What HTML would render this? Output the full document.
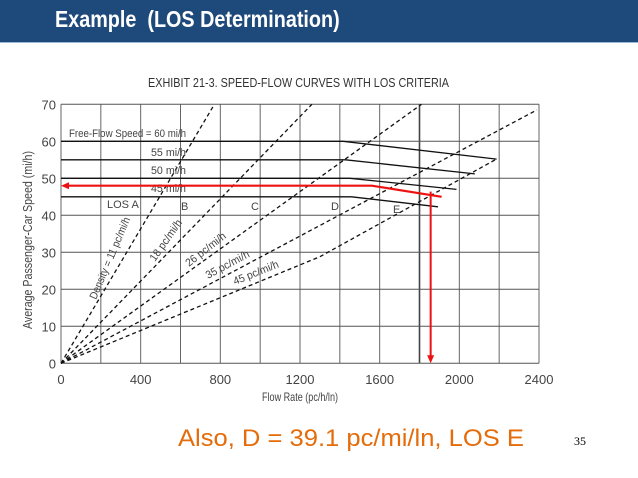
<!DOCTYPE html>
<html><head><meta charset="utf-8"><style>
html,body{margin:0;padding:0;background:#fff;}
body{width:638px;height:478px;overflow:hidden;position:relative;font-family:"Liberation Sans",sans-serif;}
#hdr{position:absolute;left:0;top:0;width:638px;height:42px;background:#1e497b;border-bottom:1px solid #9bb7d6;}
#hdr span{position:absolute;left:55px;top:6px;color:#fff;font-weight:bold;font-size:23px;white-space:nowrap;transform:scaleX(0.86);transform-origin:0 0;}
#foot{position:absolute;left:178px;top:425px;color:#e46c0a;font-size:24px;white-space:nowrap;transform:scaleX(1.065);transform-origin:0 0;}
#pg{position:absolute;left:574px;top:434px;font-family:"Liberation Serif",serif;font-size:12px;color:#000;}
svg{position:absolute;left:0;top:0;}
</style></head><body>
<div id="hdr"><span>Example &nbsp;(LOS Determination)</span></div>
<svg id="chart" width="638" height="478"></svg>
<div id="foot">Also, D = 39.1 pc/mi/ln, LOS E</div>
<div id="pg">35</div>
<script>
const xTicks=[0,400,800,1200,1600,2000,2400];
const yTicks=[0,10,20,30,40,50,60,70];
const speedNames=["Free-Flow Speed = 60 mi/h","55 mi/h","50 mi/h","45 mi/h"];
const curve60=[[0,60],[1417,60],[2187,55.2]];
const curve55=[[0,55],[1429,55],[2078,51.2]];
const curve50=[[0,50],[1451,50],[1986,47.0]];
const curve45=[[0,45],[1459,45],[1893,42.3]];
const dens11=[[0,0],[770,70]];
const dens18=[[0,0],[1260,70]];
const dens26=[[0,0],[1810,70]];
const dens35=[[0,0],[2390,68.5]];
const dens45=[[0,0],[1300,28.8],[2190,55.3]];
const redPath=[[1561,48],[1911,45]];
const redSpeed=48, redFlow=1856, redFlowTop=46.4;
const NS="http://www.w3.org/2000/svg";
const svg=document.getElementById('chart');
const X=v=>61+v*(539-61)/2400;
const Y=v=>363.3-v*(363.3-104.3)/70;
function mk(t,a,p){const e=document.createElementNS(NS,t);for(const k in a)e.setAttribute(k,a[k]);(p||svg).appendChild(e);return e;}
function pts(a){return a.map(p=>X(p[0]).toFixed(1)+','+Y(p[1]).toFixed(1)).join(' ');}
for(let f=0;f<=2400;f+=200){const l=mk('line',{x1:X(f),x2:X(f),y1:Y(0),y2:Y(70),stroke:f==1800?'#444':'#666','stroke-width':f==1800?1.6:1});
}
for(let s=0;s<=70;s+=10){const l=mk('line',{x1:X(0),x2:X(2400),y1:Y(s),y2:Y(s),stroke:'#555','stroke-width':1});
}
xTicks.forEach(v=>{const t=mk('text',{x:X(v),y:384,'font-size':13,fill:'#444','text-anchor':'middle'});t.textContent=v;
});
yTicks.forEach(v=>{const t=mk('text',{x:56,y:Y(v)+5,'font-size':13,fill:'#444','text-anchor':'end'});t.textContent=v;
});
let t=mk('text',{x:300,y:401,'font-size':12,fill:'#444','text-anchor':'middle',textLength:76,lengthAdjust:'spacingAndGlyphs'});t.textContent='Flow Rate (pc/h/ln)';

t=mk('text',{x:0,y:0,'font-size':13,fill:'#444','text-anchor':'middle',transform:'translate(32,240) rotate(-90)',textLength:178,lengthAdjust:'spacingAndGlyphs'});t.textContent='Average Passenger-Car Speed (mi/h)';

t=mk('text',{x:148,y:87,'font-size':12.5,fill:'#333',textLength:301,lengthAdjust:'spacingAndGlyphs'});t.textContent='EXHIBIT 21-3.  SPEED-FLOW CURVES WITH LOS CRITERIA';

[[dens11,'density-11'],[dens18,'density-18'],[dens26,'density-26'],[dens35,'density-35'],[dens45,'density-45']].forEach(d=>{
const p=mk('polyline',{points:pts(d[0]),fill:'none',stroke:'#111','stroke-width':1.3,'stroke-dasharray':'4,3'});
});
[curve60,curve55,curve50,curve45].forEach((c,i)=>{const p=mk('polyline',{points:pts(c),fill:'none',stroke:'#111','stroke-width':1.3});
});
const lab=(s,x,y,n,rot,fs,w)=>{const a={x:x,y:y,'font-size':fs||11,fill:'#444',transform:rot?`rotate(${rot} ${x} ${y})`:''};if(w){a.textLength=w;a.lengthAdjust='spacingAndGlyphs';}
const e=mk('text',a);e.textContent=s;
};
lab(speedNames[0],69,137,'ffs-60-label',0,11,117);lab(speedNames[1],151,156,'ffs-55-label',0,11,35);lab(speedNames[2],151,174,'ffs-50-label',0,11,35);lab(speedNames[3],151,192,'ffs-45-label',0,11,35);
lab('LOS A',107,208,'los-a-label');lab('B',181,210,'los-b-label');lab('C',251,210,'los-c-label');lab('D',331,210,'los-d-label');lab('E',393,213,'los-e-label');
lab('Density = 11 pc/mi/h',96,300,'density-11-label',-67,11,88);lab('18 pc/mi/h',155,262,'density-18-label',-55,11,48);
lab('26 pc/mi/h',189,267,'density-26-label',-38,11,48);lab('35 pc/mi/h',208,279,'density-35-label',-28,11,48);lab('45 pc/mi/h',235,285,'density-45-label',-22,11,48);
const red='#ee1111';
let r=mk('polyline',{points:pts([[30,redSpeed],...redPath]),fill:'none',stroke:red,'stroke-width':2.2});

r=mk('polygon',{points:`${X(0)},${Y(redSpeed)} ${X(0)+8},${Y(redSpeed)-3.5} ${X(0)+8},${Y(redSpeed)+3.5}`,fill:red});

r=mk('line',{x1:X(redFlow),x2:X(redFlow),y1:Y(redFlowTop),y2:Y(0)-6,stroke:red,'stroke-width':2});

r=mk('polygon',{points:`${X(redFlow)},${Y(0)} ${X(redFlow)-3.5},${Y(0)-8} ${X(redFlow)+3.5},${Y(0)-8}`,fill:red});

</script>
</body></html>
